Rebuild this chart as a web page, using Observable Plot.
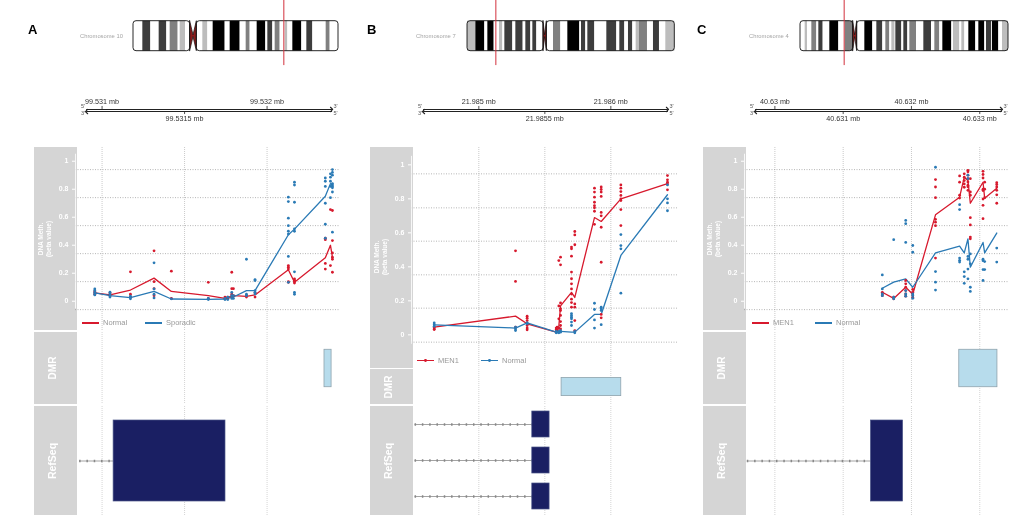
<!DOCTYPE html>
<html><head><meta charset="utf-8">
<script src="https://cdn.jsdelivr.net/npm/d3@7"></script>
<script src="https://cdn.jsdelivr.net/npm/@observablehq/plot@0.6"></script>
<style>
html,body{margin:0;padding:0;background:#fff;overflow:hidden}
#root{position:relative;width:1025px;height:531px;font-family:"Liberation Sans",Arial,sans-serif;overflow:hidden;filter:blur(.3px)}
#root svg{position:absolute;background:transparent;overflow:visible}
.abs{position:absolute;white-space:nowrap}
.rot{transform:translate(-50%,-50%) rotate(-90deg);color:#fff;font-weight:bold;text-align:center}
</style></head><body><div id="root"></div>
<script>
// ---- Panel A data (positions are bases after the first labelled tick)
const aPos=[-44,48,172,315,420,644,745,762,786,796,875,927,1129,1166,1353,1384,1396];
const aMean1=[.06,.045,.08,.165,.07,.04,.02,.025,.04,.04,.035,.045,.225,.135,.31,.40,.315];
const aMean2=[.06,.04,.026,.07,.016,.014,.016,.018,.035,.03,.076,.076,.475,.515,.75,.84,.83];
const aSamples1=[[.05,.06,.07],[.04,.05,.06],[.21,.03,.05],[.36,.14,.09,.04],[.215,.02],[.135,.02],[.02,.03],[.02,.03],[.207,.09,.05,.03],[.09,.04],[.03,.04],[.03,.06],[.255,.243,.23,.135,.14],[.16,.14,.13,.15],[.27,.23,.45,.44],[.655,.255],[.648,.433,.345,.314,.30,.207]];
const aSamples2=[[.088,.076,.064,.052,.045],[.065,.05,.04,.03],[.036,.026,.017],[.274,.088,.05,.024],[.017],[.02,.012],[.02,.012],[.03,.012],[.064,.04,.02],[.04,.02],[.30,.05,.04],[.155,.148,.076,.064,.052],[.743,.712,.593,.54,.5,.48,.32,.135],[.85,.83,.707,.517,.5,.21,.064,.05],[.88,.857,.82,.70,.55,.45],[.91,.886,.857,.82,.74],[.94,.92,.9,.84,.83,.82,.81,.78,.493]];
const aBandEnds=[28,52,77,100,110,134,140,156,170,190,208,223,239,275,290,320,338,350,371,397,403,418,425,440,455,463,478,505,520,538,552,578,590,615];
const aBandShades="wdwdwmwlwcwlwkwkwmwkwdwmwlwkwdwwmw";
// ---- Panel B data
const bPos=[-338,278,366,586,593,606,619,702,727,876,927,1076,1429];
const bMean1=[.045,.11,.065,.016,.02,.05,.17,.25,.22,.69,.667,.80,.89];
const bMean2=[.059,.04,.07,.016,.018,.02,.02,.016,.016,.12,.12,.467,.824];
const bSamples1=[[.043,.035,.031],[.494,.314,.045],[.11,.098,.084,.055,.04,.03],[.04,.03,.02],[.045,.03],[.437,.17,.094,.04],[.457,.412,.188,.153,.143,.114,.078,.055,.035],[.516,.506,.463,.369,.33,.3,.27,.24,.21,.19,.163],[.608,.588,.53,.182,.163,.084,.025],[.863,.84,.81,.78,.76,.747,.727,.65],[.87,.855,.84,.814,.72,.70,.633,.427,.12,.10],[.882,.863,.843,.82,.80,.79,.737,.643],[.937,.912,.898,.888,.853]];
const bSamples2=[[.07,.059,.05],[.045,.035,.025],[.065,.07],[.02,.012],[.016],[.02,.012],[.024,.016],[.125,.114,.104,.094,.075,.055],[.02,.012],[.186,.149,.088,.04],[.163,.153,.143,.06],[.59,.525,.506,.245],[.882,.8,.776,.73]];
const bBandEnds=[25,52,61,80,96,106,112,136,145,167,175,190,196,208,228,238,258,280,301,337,342,355,361,382,418,448,457,472,483,496,506,516,540,558,576,595,622];
const bBandShades="lkwkwlwdwdwdwdwcwmwkwdwdwdwdwdwlmwdwl";
// ---- Panel C data
const cPos=[1573,1740,1916,2019,2352,2705,2773,2827,2862,3048,3072,3249];
const cMean1=[.064,.02,.1,.05,.617,.743,.886,.862,.70,.85,.736,.807];
const cMean2=[.093,.136,.16,.1,.345,.393,.345,.445,.243,.42,.345,.487];
const cSamples1=[[.064,.052,.04],[.029,.017],[.148,.124,.1,.076,.052,.036],[.084,.064,.045,.029],[.869,.816,.74,.585,.565,.54,.308],[.895,.85,.757,.737],[.91,.886,.862,.838,.814],[.935,.924,.9,.876,.852,.829,.817,.792],[.875,.78,.757,.597,.545,.458,.446],[.928,.905,.88,.80,.79,.73,.685,.59],[.85,.8,.74],[.847,.833,.816,.792,.76,.70]];
const cSamples2=[[.188,.088,.052,.04],[.44,.029,.017],[.577,.554,.42,.076,.052,.036],[.398,.35,.052,.04,.021],[.957,.212,.136,.08],[.69,.655,.308,.292,.28],[.21,.176,.128],[.9,.876,.32,.3,.23,.16],[.1,.07,.338,.267],[.3,.29,.226,.148],[.283,.226],[.38,.28]];
const cBandEnds=[14,21,34,49,55,68,88,115,134,158,170,193,217,229,247,256,268,274,284,286,304,310,322,328,348,370,393,403,418,427,454,459,478,484,493,505,526,535,553,558,574,576,595,606,624];
const cBandShades="wlwmwdwkwmcwkwdwmwlwdwdwmwdwmwkwlwlwkwkwdwkwl";

const betaTicks=[0,.2,.4,.6,.8,1];
const shadeColors={w:"#ffffff",l:"#bdbdbd",m:"#808080",d:"#3d3d3d",k:"#000000",c:"#ffffff"};
const RED="#d7192d",BLUE="#2a7ab5";

const panels=[
 {letter:"A",letterX:28,chrom:"Chromosome 10",chromX:80,ideoX:133,ends:aBandEnds,shades:aBandShades,locus:451,
  strip:34,plotW:306,domain:[-161,1445],tickVals:[0,500,1000],tickLabels:["99.531 mb","99.5315 mb","99.532 mb"],axisEnds:[-94,1391],
  yDomain:[-.209,1.098],grid:[.94,.74,.54,.34,.14,-.06],meth:[147,183],dmr:[332,72],ref:[406,109],
  pos:aPos,mean1:aMean1,mean2:aMean2,s1:aSamples1,s2:aSamples2,names:["Normal","Sporadic"],legendY:323,legendX:[48,111],
  dmrRange:[1348,1391],geneStart:[70],geneEnd:[748],intronStart:[-136],bandPad:[0,.165]},
 {letter:"B",letterX:367,chrom:"Chromosome 7",chromX:416,ideoX:467,ends:bBandEnds,shades:bBandShades,locus:85,
  strip:370,plotW:307,domain:[-510,1505],tickVals:[0,500,1000],tickLabels:["21.985 mb","21.9855 mb","21.986 mb"],axisEnds:[-419,1429],
  yDomain:[-.195,1.102],grid:[.947,.747,.551,.353,.157,-.043],meth:[147,220.5],dmr:[369,35],ref:[406,109],
  pos:bPos,mean1:bMean1,mean2:bMean2,s1:bSamples1,s2:bSamples2,names:["MEN1","Normal"],legendY:360.5,legendX:[47,111],
  dmrRange:[627,1079],geneStart:[405,405,405],geneEnd:[536,536,536],intronStart:[-483,-483,-483],bandPad:[.27,.108]},
 {letter:"C",letterX:697,chrom:"Chromosome 4",chromX:749,ideoX:800,ends:cBandEnds,shades:cBandShades,locus:131,
  strip:703,plotW:305,domain:[-445,3421],tickVals:[0,1000,2000,3000],tickLabels:["40.63 mb","40.631 mb","40.632 mb","40.633 mb"],axisEnds:[-284,3318],
  yDomain:[-.209,1.098],grid:[.94,.74,.54,.34,.14,-.06],meth:[147,183],dmr:[332,72],ref:[406,109],
  pos:cPos,mean1:cMean1,mean2:cMean2,s1:cSamples1,s2:cSamples2,names:["MEN1","Normal"],legendY:323,legendX:[49,112],
  dmrRange:[2700,3259],geneStart:[1407],geneEnd:[1877],intronStart:[-404],bandPad:[0,.165]}
];

const root=document.getElementById("root");
const FONT='"Liberation Sans",Arial,sans-serif';
function place(svg,left,top){svg.style.left=left+"px";svg.style.top=top+"px";root.appendChild(svg);}
function html(cls,css,text){const d=document.createElement("div");d.className=cls;d.style.cssText=css;d.textContent=text||"";root.appendChild(d);return d;}

for(const p of panels){
  const L=p.strip,SW=41,plotW=p.plotW;
  const base={width:plotW,marginLeft:SW,marginRight:0,marginTop:0,marginBottom:0,style:{fontFamily:FONT,background:"transparent"}};
  const xs={domain:p.domain,range:[SW,plotW],axis:null};

  // letter + chromosome name
  html("abs",`left:${p.letterX}px;top:22px;font-size:13px;font-weight:bold;color:#000`,p.letter);
  html("abs",`left:${p.chromX}px;top:32.5px;font-size:5.8px;color:#a5a5a5`,p.chrom);

  // ideogram
  const starts=p.ends.map((e,i)=>i?p.ends[i-1]:0);
  const bands=p.ends.map((e,i)=>({x1:starts[i],x2:e,s:p.shades[i]||"w"}));
  const cen=bands.find(b=>b.s==="c");
  const len=p.ends[p.ends.length-1];
  const arms=[{x1:0,x2:cen.x1},{x1:cen.x2,x2:len}];
  const cenPts=[{x:cen.x1,y1:0,y2:1},{x:(cen.x1+cen.x2)/2,y1:.47,y2:.53},{x:cen.x2,y1:0,y2:1}];
  place(Plot.plot({width:len/3,height:66,margin:0,style:{background:"transparent"},
    x:{domain:[0,len],range:[0,len/3],axis:null},y:{domain:[-.69,1.51],range:[0,66],axis:null},color:{type:"identity"},
    marks:[
      Plot.rect(bands,{x1:"x1",x2:"x2",y1:()=>0,y2:()=>1,fill:d=>shadeColors[d.s]}),
      Plot.areaY(cenPts,{x:"x",y1:"y1",y2:"y2",fill:"#8a1c1c",stroke:"#111",strokeWidth:.7}),
      Plot.rect(arms,{x1:"x1",x2:"x2",y1:()=>0,y2:()=>1,fill:"none",stroke:"#111",strokeWidth:.9,rx:3}),
      Plot.ruleX([p.locus],{y1:-.69,y2:1.48,stroke:"#d2303c",strokeWidth:1})
    ]}),p.ideoX,0);

  // genome axis
  const labelData=p.tickVals.map((v,i)=>({v,label:p.tickLabels[i],up:i%2===0}));
  place(Plot.plot({...base,height:30,x:xs,y:{domain:[-1,1],range:[30,0],axis:null},
    marks:[
      Plot.line(p.axisEnds.map(x=>({x,y:.07})),{x:"x",y:"y",stroke:"#222",strokeWidth:1.1,markerEnd:"arrow"}),
      Plot.line(p.axisEnds.slice().reverse().map(x=>({x,y:-.07})),{x:"x",y:"y",stroke:"#222",strokeWidth:1.1,markerEnd:"arrow"}),
      Plot.ruleX(labelData,{x:"v",y1:d=>d.up?.07:-.07,y2:d=>d.up?.27:-.27,stroke:"#222",strokeWidth:.8}),
      Plot.text(labelData,{x:"v",y:d=>d.up?.6:-.53,text:"label",fontSize:7.2,fill:"#333"}),
      Plot.text(["5'","3'"],{x:()=>p.axisEnds[0],y:(d,i)=>i?-.2:.27,text:d=>d,dx:-3.5,fontSize:5.5,fill:"#555"}),
      Plot.text(["3'","5'"],{x:()=>p.axisEnds[1],y:(d,i)=>i?-.2:.27,text:d=>d,dx:4,fontSize:5.5,fill:"#555"})
    ]}),L,95);

  // strips
  for(const sec of [p.meth,p.dmr,p.ref]) html("abs",`left:${L}px;top:${sec[0]}px;width:43px;height:${sec[1]}px;background:#d5d5d5`);
  const mc=p.meth[0]+p.meth[1]/2, dc=p.dmr[0]+p.dmr[1]/2, rc=p.ref[0]+p.ref[1]/2;
  html("abs rot",`left:${L+6}px;top:${mc}px;font-size:6.5px`,"DNA Meth.");
  html("abs rot",`left:${L+13.5}px;top:${mc}px;font-size:6.5px`,"(beta value)");
  html("abs rot",`left:${L+17.5}px;top:${dc}px;font-size:10px`,"DMR");
  html("abs rot",`left:${L+17.5}px;top:${rc}px;font-size:10.5px`,"RefSeq");

  // methylation track
  const rows=k=>p.pos.flatMap((x,i)=>p[k][i].map(y=>({x,y})));
  const means=k=>p.pos.map((x,i)=>({x,y:p[k][i]}));
  place(Plot.plot({...base,height:p.meth[1],x:xs,y:{domain:p.yDomain,range:[p.meth[1],0]},
    marks:[
      Plot.gridX(p.tickVals,{stroke:"#aaa",strokeOpacity:.8,strokeDasharray:"1,1",strokeWidth:.8}),
      Plot.gridY(p.grid,{stroke:"#999",strokeOpacity:.9,strokeDasharray:"1,1.5",strokeWidth:.8}),
      Plot.ruleX([p.domain[0]],{y1:-.055,y2:1.05,stroke:"#fff",strokeWidth:.8}),
      Plot.axisY({ticks:betaTicks,tickFormat:d=>String(d),color:"#fff",fontSize:7,tickSize:3,tickPadding:4,label:null,anchor:"left",fontWeight:"bold"}),
      Plot.line(means("mean1"),{x:"x",y:"y",stroke:RED,strokeWidth:1.3}),
      Plot.line(means("mean2"),{x:"x",y:"y",stroke:BLUE,strokeWidth:1.3}),
      Plot.dot(rows("s1"),{x:"x",y:"y",r:1.4,fill:RED}),
      Plot.dot(rows("s2"),{x:"x",y:"y",r:1.4,fill:BLUE})
    ]}),L,p.meth[0]);

  // legend
  [[RED,p.names[0],p.legendX[0]],[BLUE,p.names[1],p.legendX[1]]].forEach(([c,n,dx])=>{
    html("abs",`left:${L+dx}px;top:${p.legendY-.6}px;width:17px;height:1.2px;background:${c}`);
    html("abs",`left:${L+dx+7}px;top:${p.legendY-1.4}px;width:2.8px;height:2.8px;border-radius:50%;background:${c}`);
    html("abs",`left:${L+dx+21}px;top:${p.legendY-5}px;font-size:7.5px;line-height:10px;color:#999`,n);
  });

  // DMR track
  place(Plot.plot({...base,height:p.dmr[1],x:xs,y:{domain:[0,1],range:[0,p.dmr[1]],axis:null},
    marks:[
      Plot.gridX(p.tickVals,{stroke:"#bbb",strokeOpacity:.8,strokeDasharray:"1,1",strokeWidth:.8}),
      Plot.rect([p.dmrRange],{x1:d=>d[0],x2:d=>d[1],y1:()=>.24,y2:()=>.76,fill:"#b7dcec",stroke:"#8fa3ad",strokeWidth:.8})
    ]}),L,p.dmr[0]);

  // RefSeq track
  const tx=p.geneStart.map((s,i)=>({id:String(i),x1:s,x2:p.geneEnd[i],i1:p.intronStart[i]}));
  place(Plot.plot({...base,height:p.ref[1],x:xs,
    y:{domain:tx.map(d=>d.id),range:[0,p.ref[1]],paddingInner:p.bandPad[0],paddingOuter:p.bandPad[1],axis:null},
    marks:[
      Plot.gridX(p.tickVals,{stroke:"#bbb",strokeOpacity:.8,strokeDasharray:"1,1",strokeWidth:.8}),
      Plot.ruleY(tx,{y:"id",x1:"i1",x2:"x1",stroke:"#999",strokeWidth:.9}),
      Plot.ruleY(tx,{y:"id",x1:"i1",x2:"x1",stroke:"#888",strokeWidth:2.4,strokeDasharray:"1.5,5.8"}),
      Plot.barX(tx,{x1:"x1",x2:"x2",y:"id",fill:"#1a1f63",stroke:"#4a5588",strokeWidth:.7})
    ]}),L,p.ref[0]);
}
</script></body></html>
